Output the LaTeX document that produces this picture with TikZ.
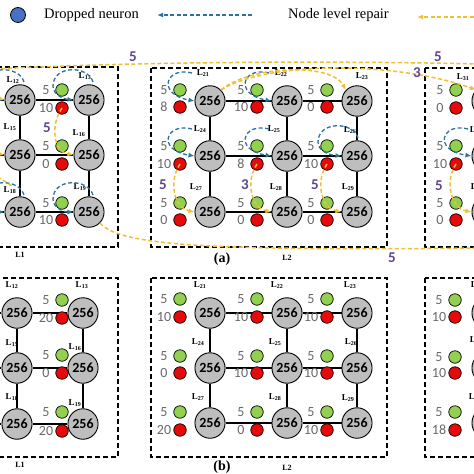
\documentclass[tikz,border=0pt]{standalone}
\usepackage{fontspec}
\setmainfont{Liberation Serif}
\newfontfamily\numfont{Carlito}
\usetikzlibrary{shapes.geometric,arrows.meta}
\definecolor{ngray}{RGB}{190,190,190}
\definecolor{numgray}{RGB}{105,105,105}
\definecolor{bluea}{RGB}{42,115,160}
\definecolor{yella}{RGB}{240,192,50}
\definecolor{purp}{RGB}{96,70,140}
\definecolor{gdotc}{RGB}{146,208,80}
\definecolor{rdotc}{RGB}{232,10,10}
\definecolor{legblue}{RGB}{70,114,196}
\newcommand\mkN[3]{\node[nn] (#1) at (#2,#3) {256};}
\newcommand\mkD[6]{%
  \node[num] (t#1) at ({#2-16},#3) {#5};
  \node[num] (u#1) at ({#2-16},#4) {#6};
  \node[gdot] (g#1) at (#2,#3) {};
  \node[rdot] (r#1) at (#2,#4) {};}
\newcommand\mkL[4]{\node[lab] (l#1) at (#2,#3) {L\textsubscript{#4}};}
\newcommand\bOver[3]{\draw[barrow] ({#2+31},{#3-8}) .. controls ({#2+26},{#3-25}) and ({#2-9},{#3-25}) .. ({#2-9},{#3-4}) .. controls ({#2-9},{#3+5}) and ({#2+2},{#3+9}) .. (#1.west);}
\newcommand\bCee[3]{\draw[barrow] ({#2+12},{#3-17}) .. controls ({#2-14},{#3-24}) and ({#2-24},{#3+4}) .. (#1.west);}
\newcommand\yCol[2]{\draw[yarrow] (#1.center) .. controls +(-12,18) and +(-20,-4) .. (#2.west);}
\begin{document}
\begin{tikzpicture}[x=1pt,y=-1pt,
  nn/.style={ellipse,draw=black,line width=0.9pt,fill=ngray,minimum width=27.5pt,minimum height=30.5pt,inner sep=0pt,font=\numfont\bfseries\fontsize{14}{14}\selectfont},
  num/.style={text=numgray,inner sep=0pt,font=\numfont\fontsize{14}{14}\selectfont},
  gdot/.style={circle,draw=black,line width=0.7pt,fill=gdotc,minimum size=12.5pt,inner sep=0pt},
  rdot/.style={circle,draw=black,line width=0.7pt,fill=rdotc,minimum size=12.5pt,inner sep=0pt},
  lab/.style={inner sep=0pt,font=\bfseries\fontsize{9}{9}\selectfont},
  purple/.style={inner sep=0pt,text=purp,font=\numfont\bfseries\fontsize{15}{15}\selectfont},
  box/.style={draw=black,line width=1.6pt,dash pattern=on 5pt off 3pt},
  link/.style={draw=black,line width=2.6pt},
  barrow/.style={draw=bluea,line width=1.3pt,dash pattern=on 4pt off 2.5pt,-{Latex[length=6pt,width=5pt]}},
  yarrow/.style={draw=yella,line width=1.5pt,dash pattern=on 4pt off 2.5pt,-{Latex[length=6pt,width=5pt]}},
  yline/.style={draw=yella,line width=1.5pt,dash pattern=on 4pt off 2.5pt},
  panel/.style={inner sep=0pt,font=\bfseries\fontsize{14}{14}\selectfont},
  small/.style={inner sep=0pt,font=\bfseries\fontsize{8}{8}\selectfont}]
\useasboundingbox (0,0) rectangle (474,474);
\fill[white] (0,0) rectangle (474,474);
\clip (0,0) rectangle (474,474);
% legend
\node[circle,draw=black,line width=0.8pt,fill=legblue,minimum size=15pt,inner sep=0pt] (legdot) at (18,15) {};
\node[anchor=west,inner sep=0pt,font=\fontsize{14.5}{14.5}\selectfont] (legt1) at (44,15) {Dropped neuron};
\node[anchor=east,inner sep=0pt,font=\fontsize{14.5}{14.5}\selectfont] (legt2) at (389,15) {Node level repair};
\coordinate (bl1) at (252,15); \coordinate (bl0) at (157,15);
\draw[barrow] (bl1) -- (bl0);
\coordinate (yl1) at (480,17); \coordinate (yl0) at (417,17);
\draw[yarrow] (yl1) -- (yl0);
% boxes
\draw[box] (-70,67) rectangle (118,247);
\draw[box] (151,68) rectangle (387,247);
\draw[box] (425,68) rectangle (600,247);
\draw[box] (-70,278) rectangle (118,457);
\draw[box] (151,278) rectangle (387,457);
\draw[box] (425,278) rectangle (600,457);
% nodes (a)
\mkN{a12}{20}{100}\mkN{a13}{89}{100}
\mkN{a15}{20}{155}\mkN{a16}{89}{155}
\mkN{a18}{20}{212}\mkN{a19}{89}{212}
\mkN{a21}{210}{101}\mkN{a22}{287}{101}\mkN{a23}{357}{101}
\mkN{a24}{210}{156}\mkN{a25}{287}{156}\mkN{a26}{357}{156}
\mkN{a27}{210}{212}\mkN{a28}{287}{212}\mkN{a29}{357}{212}
\mkN{a31}{487}{101}\mkN{a34}{487}{156}\mkN{a37}{487}{212}
% nodes (b)
\mkN{b12}{17}{313}\mkN{b13}{83}{313}
\mkN{b15}{17}{368}\mkN{b16}{83}{368}
\mkN{b18}{17}{424}\mkN{b19}{83}{424}
\mkN{b21}{210}{313}\mkN{b22}{287}{313}\mkN{b23}{357}{313}
\mkN{b24}{210}{368}\mkN{b25}{287}{368}\mkN{b26}{357}{368}
\mkN{b27}{210}{423}\mkN{b28}{287}{423}\mkN{b29}{357}{423}
\mkN{b31}{487}{313}\mkN{b34}{487}{368}\mkN{b37}{487}{423}
% stubs
\coordinate (a11) at (-50,100); \coordinate (a14) at (-50,155); \coordinate (a17) at (-50,212);
\coordinate (b11) at (-50,313); \coordinate (b14) at (-50,368); \coordinate (b17) at (-50,424);
% links
\foreach \p/\q in {a11/a12,a12/a13,a14/a15,a15/a16,a17/a18,a18/a19,a12/a15,a15/a18,a13/a16,a16/a19,
  a21/a22,a22/a23,a24/a25,a25/a26,a27/a28,a28/a29,a21/a24,a24/a27,a22/a25,a25/a28,a23/a26,a26/a29,
  b11/b12,b12/b13,b14/b15,b15/b16,b17/b18,b18/b19,b12/b15,b15/b18,b13/b16,b16/b19,
  b21/b22,b22/b23,b24/b25,b25/b26,b27/b28,b28/b29,b21/b24,b24/b27,b22/b25,b25/b28,b23/b26,b26/b29}
  \draw[link] (\p) -- (\q);
% labels (a)
\mkL{a12}{13}{80}{12}\mkL{a13}{85}{76}{13}
\mkL{a15}{10}{127}{15}\mkL{a16}{79}{133}{16}
\mkL{a18}{10}{190}{18}\mkL{a19}{80}{187}{19}
\mkL{a21}{203}{73}{21}\mkL{a22}{281}{73}{22}\mkL{a23}{362}{76}{23}
\mkL{a24}{200}{129}{24}\mkL{a25}{274}{129}{25}\mkL{a26}{350}{130}{26}
\mkL{a27}{196}{187}{27}\mkL{a28}{276}{187}{28}\mkL{a29}{348}{187}{29}
\mkL{a31}{463}{77}{31}\mkL{a34}{476}{130}{34}\mkL{a37}{477}{187}{37}
% labels (b)
\mkL{b12}{12}{285}{12}\mkL{b13}{82}{285}{13}
\mkL{b15}{12}{343}{15}\mkL{b16}{75}{347}{16}
\mkL{b18}{12}{397}{18}\mkL{b19}{75}{403}{19}
\mkL{b21}{200}{285}{21}\mkL{b22}{277}{285}{22}\mkL{b23}{350}{285}{23}
\mkL{b24}{198}{342}{24}\mkL{b25}{275}{342}{25}\mkL{b26}{351}{342}{26}
\mkL{b27}{198}{397}{27}\mkL{b28}{275}{397}{28}\mkL{b29}{348}{398}{29}
\mkL{b31}{477}{285}{31}\mkL{b34}{476}{340}{34}\mkL{b37}{475}{397}{37}
% dots (a)
\mkD{a13}{62}{90}{108}{5}{10}
\mkD{a16}{62}{146}{164}{5}{0}
\mkD{a19}{62}{203}{220}{5}{10}
\mkD{a21}{180}{90}{107}{5}{8}
\mkD{a22}{257}{90}{107}{5}{10}
\mkD{a23}{327}{90}{107}{5}{0}
\mkD{a24}{180}{146}{164}{5}{10}
\mkD{a25}{257}{146}{164}{5}{8}
\mkD{a26}{327}{146}{164}{5}{10}
\mkD{a27}{180}{203}{220}{5}{0}
\mkD{a28}{257}{203}{220}{5}{0}
\mkD{a29}{327}{203}{220}{5}{0}
\mkD{a31}{456}{90}{108}{5}{0}
\mkD{a34}{456}{146}{164}{5}{10}
\mkD{a37}{456}{203}{220}{5}{0}
% dots (b)
\mkD{b13}{62}{300}{318}{5}{20}
\mkD{b16}{62}{355}{373}{5}{0}
\mkD{b19}{62}{412}{431}{5}{20}
\mkD{b21}{180}{299}{317}{5}{10}
\mkD{b22}{257}{299}{317}{5}{10}
\mkD{b23}{327}{299}{317}{5}{10}
\mkD{b24}{180}{356}{373}{5}{0}
\mkD{b25}{257}{356}{373}{5}{10}
\mkD{b26}{327}{356}{373}{5}{10}
\mkD{b27}{180}{412}{430}{5}{20}
\mkD{b28}{257}{412}{430}{5}{0}
\mkD{b29}{327}{412}{430}{5}{10}
\mkD{b31}{455}{300}{317}{5}{10}
\mkD{b34}{455}{357}{373}{5}{10}
\mkD{b37}{455}{412}{430}{5}{18}
% blue node level repair arrows
\bOver{a12}{-7}{90}
\bOver{a13}{62}{90}
\bOver{a18}{-7}{203}
\bOver{a19}{62}{203}
\bCee{a21}{180}{90}
\bCee{a22}{257}{90}
\bCee{a24}{180}{146}
\bCee{a25}{257}{146}
\bOver{a26}{327}{146}
\bCee{a34}{456}{146}
% yellow arrows in columns
\yCol{ra13}{a16}
\yCol{ra24}{a27}
\yCol{ra25}{a28}
\yCol{ra26}{a29}
\yCol{ra34}{a37}
% yellow long curves
\coordinate (ytl0) at (-5,69); \coordinate (ytl1) at (480,64);
\draw[yline] (ytl0) .. controls (150,61) and (350,61) .. (ytl1);
\draw[yarrow] (a21.north east) .. controls (250,66) and (330,62) .. (a23.north west);
\draw[yarrow] (a21.north east) .. controls (270,60) and (400,62) .. (a31.north west);
\coordinate (ybt1) at (480,248);
\draw[yline] (a19.south east) .. controls (120,245) and (200,251) .. (ybt1);
\coordinate (yst0) at (-20,92); \draw[yarrow] (yst0) -- (a12.west);
\coordinate (yst1) at (-20,150); \draw[yarrow] (yst1) -- (a15.west);
\coordinate (yst2) at (-20,168); \coordinate (yst3) at (12,186);
\draw[yline] (yst2) .. controls (-5,175) .. (yst3);
% purple labels
\node[purple] (p1) at (47,128) {5};
\node[purple] (p2) at (163,185) {5};
\node[purple] (p3) at (245,185) {3};
\node[purple] (p4) at (315,185) {5};
\node[purple] (p5) at (439,186) {5};
\node[purple] (p6) at (133,57) {5};
\node[purple] (p7) at (438,57) {5};
\node[purple] (p8) at (417,73) {3};
\node[purple] (p9) at (392,258) {5};
% panel labels
\node[panel] (pa) at (222,259) {(a)};
\node[small] (pal2) at (287,258) {L2};
\node[small] (pal1) at (20,255) {L1};
\node[panel] (pb) at (222,467) {(b)};
\node[small] (pbl2) at (287,468) {L2};
\node[small] (pbl1) at (20,465) {L1};
\end{tikzpicture}
\end{document}
